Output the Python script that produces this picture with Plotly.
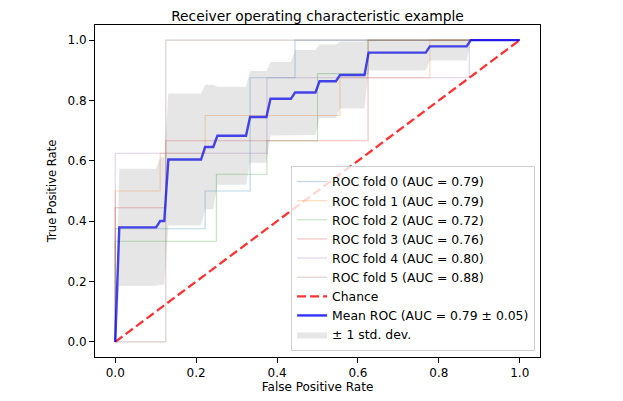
import numpy as np
import plotly.graph_objects as go

# ---- data ----
fold_names = ["ROC fold 0 (AUC = 0.79)", "ROC fold 1 (AUC = 0.79)", "ROC fold 2 (AUC = 0.72)",
              "ROC fold 3 (AUC = 0.76)", "ROC fold 4 (AUC = 0.80)", "ROC fold 5 (AUC = 0.88)"]
fold0_fpr = [0, 0, 2/9, 2/9, 3/9, 3/9, 4/9, 4/9, 1]
fold0_tpr = [0, 3/8, 3/8, 4/8, 4/8, 7/8, 7/8, 1, 1]
fold1_fpr = [0, 0, 1/9, 1/9, 2/9, 2/9, 5/9, 5/9, 7/9, 7/9, 1]
fold1_tpr = [0, 0.5, 0.5, 0.625, 0.625, 0.75, 0.75, 0.875, 0.875, 1, 1]
fold2_fpr = [0, 0, 0.25, 0.25, 0.375, 0.375, 0.5, 0.5, 0.625, 0.625, 1]
fold2_tpr = [0, 3/9, 3/9, 5/9, 5/9, 6/9, 6/9, 8/9, 8/9, 1, 1]
fold3_fpr = [0, 0, 0.125, 0.125, 0.625, 0.625, 1]
fold3_tpr = [0, 4/9, 4/9, 6/9, 6/9, 1, 1]
fold4_fpr = [0, 0, 0.375, 0.375, 0.875, 0.875, 1]
fold4_tpr = [0, 0.625, 0.625, 0.875, 0.875, 1, 1]
fold5_fpr = [0, 0.125, 0.125, 1]
fold5_tpr = [0, 0, 1, 1]
fold_colors = ["rgba(31,119,180,0.3)", "rgba(255,127,14,0.3)", "rgba(44,160,44,0.3)",
               "rgba(214,39,40,0.3)", "rgba(148,103,189,0.3)", "rgba(140,86,75,0.3)"]
chance_x = [0, 1]
chance_y = [0, 1]
mean_label = "Mean ROC (AUC = 0.79 \u00b1 0.05)"
std_label = "\u00b1 1 std. dev."
tick_vals = [0.0, 0.2, 0.4, 0.6, 0.8, 1.0]

folds = [(fold0_fpr, fold0_tpr), (fold1_fpr, fold1_tpr), (fold2_fpr, fold2_tpr),
         (fold3_fpr, fold3_tpr), (fold4_fpr, fold4_tpr), (fold5_fpr, fold5_tpr)]

# mean ROC and spread across folds (same procedure as the original example)
mean_fpr = np.linspace(0, 1, 100)
tprs = []
for f, t in folds:
    it = np.interp(mean_fpr, f, t)
    it[0] = 0.0
    tprs.append(it)
tprs = np.array(tprs)
mean_tpr = tprs.mean(axis=0)
mean_tpr[-1] = 1.0
std_tpr = tprs.std(axis=0)
upper = np.minimum(mean_tpr + std_tpr, 1)
lower = np.maximum(mean_tpr - std_tpr, 0)

fig = go.Figure()
for (f, t), name, col in zip(folds, fold_names, fold_colors):
    fig.add_trace(go.Scatter(x=f, y=t, mode="lines", name=name,
                             line=dict(color=col, width=1.1)))
fig.add_trace(go.Scatter(x=chance_x, y=chance_y, mode="lines", name="Chance",
                         line=dict(color="rgba(255,0,0,0.8)", width=2.3, dash="9px,4px")))
fig.add_trace(go.Scatter(x=mean_fpr, y=mean_tpr, mode="lines", name=mean_label,
                         line=dict(color="rgba(0,0,255,0.8)", width=2.4)))
fig.add_trace(go.Scatter(x=mean_fpr, y=lower, mode="lines", showlegend=False,
                         line=dict(width=0, color="rgba(128,128,128,0)"), hoverinfo="skip"))
fig.add_trace(go.Scatter(x=mean_fpr, y=upper, mode="lines", name=std_label, fill="tonexty",
                         fillcolor="rgba(128,128,128,0.2)",
                         line=dict(width=0, color="rgba(128,128,128,0)")))

axis_common = dict(range=[-0.05, 1.05], tickvals=tick_vals, tickformat=".1f",
                   ticks="outside", ticklen=5, tickwidth=1, tickcolor="black",
                   showline=True, mirror=True, linecolor="black", linewidth=1,
                   showgrid=False, zeroline=False, automargin=False,
                   tickfont=dict(size=12, color="black"))

# page body adds an 8px offset, so the figure is 8px smaller and margins compensate
fig.update_layout(
    width=615, height=393,
    margin=dict(l=87, r=83, t=17, b=44),
    paper_bgcolor="white", plot_bgcolor="white",
    font=dict(family="DejaVu Sans", size=12, color="black"),
    title=dict(text="Receiver operating characteristic example", x=0.5, xref="paper",
               y=1 - 8.1 / 393, yref="container", yanchor="middle",
               font=dict(size=13.8, color="black")),
    xaxis=dict(axis_common, title=dict(text="False Positive Rate", standoff=3,
                                        font=dict(size=12))),
    yaxis=dict(axis_common, title=dict(text="True Positive Rate", standoff=8,
                                        font=dict(size=11.5))),
    legend=dict(x=0.989, y=0.018, xanchor="right", yanchor="bottom",
                traceorder="normal",
                bgcolor="rgba(255,255,255,0.8)", bordercolor="#d0d0d0", borderwidth=1,
                font=dict(size=12.4, color="black"), itemwidth=30, tracegroupgap=0),
    showlegend=True,
)

fig.write_html("out.html")
